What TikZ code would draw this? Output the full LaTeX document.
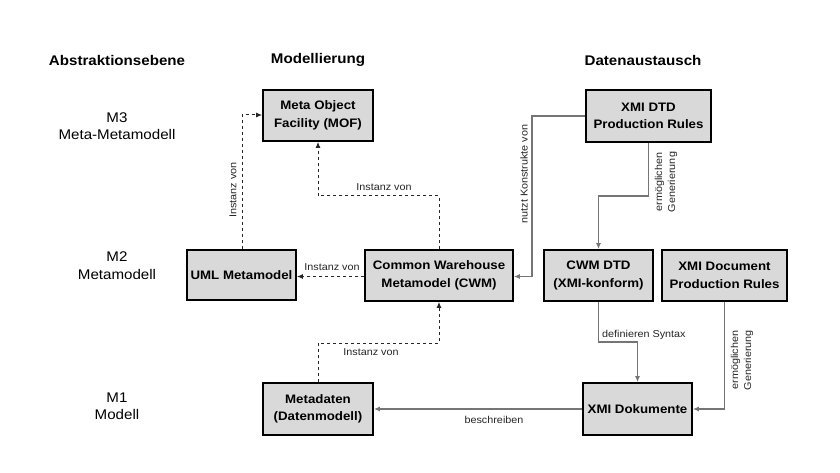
\documentclass[tikz,border=0pt]{standalone}
\usepackage{fontspec}
\setmainfont[FakeStretch=1.08]{Liberation Sans}
\usetikzlibrary{arrows.meta}
\definecolor{boxfill}{HTML}{D9D9D9}
\definecolor{conn}{HTML}{757575}
\tikzset{
  box/.style={draw=black, line width=1.8pt, fill=boxfill, align=center, inner sep=0pt,
    font=\fontsize{12.3}{17.5}\selectfont\bfseries},
  inst/.style={draw=black!85, line width=1pt, dash pattern=on 3.5pt off 2.5pt, -{Latex[length=6pt,width=5pt]}},
  solidc/.style={draw=conn, line width=1.3pt, -{Latex[length=6pt,width=5pt]}},
  lab/.style={font=\fontsize{10}{13}\selectfont, text=black!85, inner sep=0pt, align=center},
  lvl/.style={font=\fontsize{14}{17.5}\selectfont, align=center, inner sep=0pt},
  hdr/.style={font=\fontsize{14}{17}\selectfont\bfseries, inner sep=0pt}
}
\begin{document}
\begin{tikzpicture}[x=1pt,y=-1pt]
\useasboundingbox (0,0) rectangle (840,473);
\fill[white] (0,0) rectangle (840,473);
% headers
\node[hdr] (h1) at (117,60) {Abstraktionsebene};
\node[hdr] (h2) at (318,60) {Modellierung};
\node[hdr] (h3) at (643,60) {Datenaustausch};
% levels
\node[lvl] (m3) at (117,126) {M3\\Meta-Metamodell};
\node[lvl] (m2) at (117,265.5) {M2\\Metamodell};
\node[lvl] (m1) at (117,406) {M1\\Modell};
% boxes
\node[box, minimum width=110pt, minimum height=51pt] (mof) at (318,115.5) {Meta Object\\Facility (MOF)};
\node[box, minimum width=125pt, minimum height=52pt] (xdtd) at (648.5,116) {XMI DTD\\Production Rules};
\node[box, minimum width=109pt, minimum height=50pt] (uml) at (241.5,275) {UML Metamodel};
\node[box, minimum width=148pt, minimum height=51pt] (cwm) at (439,275.5) {Common Warehouse\\Metamodel (CWM)};
\node[box, minimum width=109pt, minimum height=51pt] (cdtd) at (598.5,275.5) {CWM DTD\\(XMI-konform)};
\node[box, minimum width=125pt, minimum height=51pt] (xdpr) at (724.5,275.5) {XMI Document\\Production Rules};
\node[box, minimum width=110pt, minimum height=52pt] (meta) at (318,409) {Metadaten\\(Datenmodell)};
\node[box, minimum width=109pt, minimum height=52pt] (xdok) at (637.5,409) {XMI Dokumente};
% coordinates
\coordinate (a1) at (242,115);
\coordinate (b1) at (439,196);
\coordinate (b2) at (318,196);
\coordinate (c1) at (532,116);
\coordinate (c2) at (532,276.5);
\coordinate (d1) at (648.5,196);
\coordinate (d2) at (598.5,196);
\coordinate (e1) at (598.5,342);
\coordinate (e2) at (637.5,342);
\coordinate (f1) at (724.5,409);
\coordinate (g1) at (318,343);
\coordinate (g2) at (439,343);
% dashed instance connectors
\draw[inst] (uml.north -| a1) -- (a1) -- (mof.west |- a1);
\draw[inst] (cwm.north) -- (b1) -- (b2) -- (mof.south);
\draw[inst] (cwm.west |- 0,276.5) -- (uml.east |- 0,276.5);
\draw[inst] (meta.north) -- (g1) -- (g2) -- (cwm.south);
% solid connectors
\draw[solidc] (xdtd.west |- c1) -- (c1) -- (c2) -- (cwm.east |- c2);
\draw[solidc] (xdtd.south) -- (d1) -- (d2) -- (cdtd.north);
\draw[solidc] (cdtd.south) -- (e1) -- (e2) -- (xdok.north);
\draw[solidc] (xdpr.south) -- (f1) -- (xdok.east);
\draw[solidc] (xdok.west) -- (meta.east);
% labels
\node[lab, rotate=90] (l1) at (233,190) {Instanz von};
\node[lab] (l2) at (384,187) {Instanz von};
\node[lab] (l3) at (332,267) {Instanz von};
\node[lab] (l4) at (371,352) {Instanz von};
\node[lab, rotate=90] (l5) at (524,174) {nutzt Konstrukte von};
\node[lab, rotate=90] (l6) at (666,182) {ermöglichen\\Generierung};
\node[lab, anchor=west] (l7) at (602,335) {definieren Syntax};
\node[lab, rotate=90] (l8) at (742,360) {ermöglichen\\Generierung};
\node[lab] (l9) at (494,420) {beschreiben};
\end{tikzpicture}
\end{document}
